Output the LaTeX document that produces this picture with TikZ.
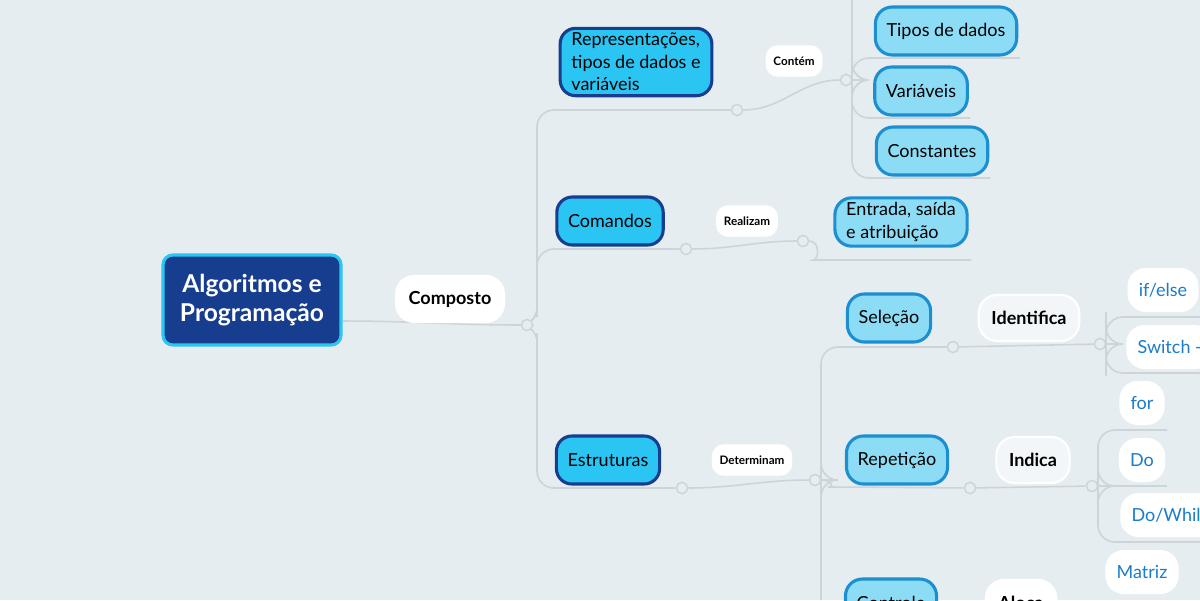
\documentclass[tikz,border=0pt]{standalone}
\usepackage{fontspec}
\setmainfont{Lato}
\usetikzlibrary{positioning}
\pgfdeclarelayer{background}
\pgfsetlayers{background,main}
\definecolor{bgc}{HTML}{E6EDF1}
\definecolor{linec}{HTML}{CDD4D8}
\definecolor{navy}{HTML}{173D8F}
\definecolor{cyanb}{HTML}{2BC5F4}
\definecolor{lightb}{HTML}{8DDCF5}
\definecolor{medb}{HTML}{1B8FD0}
\definecolor{textb}{HTML}{1B7CC8}
\tikzset{
  rootbox/.style={draw=cyanb,line width=2.2pt,fill=navy,rounded corners=7pt,text=white,font=\fontsize{17.5}{21}\selectfont\bfseries,align=center,minimum width=4.45cm,minimum height=2.25cm},
  mainbox/.style={draw=navy,line width=2.2pt,fill=cyanb,rounded corners=11pt,font=\fontsize{12.8}{16}\selectfont,align=left,minimum height=1.2cm,inner xsep=8pt},
  subbox/.style={draw=medb,line width=2.2pt,fill=lightb,rounded corners=12pt,font=\fontsize{12.8}{16}\selectfont,align=left,minimum height=1.2cm,inner xsep=8pt},
  verb/.style={draw=white,line width=1pt,fill=white,rounded corners=8pt,font=\fontsize{8.3}{10}\selectfont\bfseries,minimum height=0.75cm,inner xsep=5pt},
  bigverb/.style={draw=white,line width=1.5pt,fill=white,rounded corners=13pt,font=\fontsize{12.8}{15}\selectfont\bfseries,minimum height=1.15cm,inner xsep=9pt},
  grayverb/.style={bigverb,fill=bgc!50!white},
  leaf/.style={fill=white,rounded corners=13pt,text=textb,font=\fontsize{12.8}{15}\selectfont,minimum height=1.1cm,inner xsep=8pt},
  junc/.style={circle,draw=linec,line width=1pt,fill=bgc,minimum size=0.28cm,inner sep=0pt},
  link/.style={draw=linec,line width=1.1pt,rounded corners=12pt},
}
\begin{document}
\begin{tikzpicture}[x=0.025cm,y=-0.025cm]
\begin{pgfonlayer}{background}
\fill[bgc] (0,0) rectangle (1200,600);
\end{pgfonlayer}
\useasboundingbox (0,0) rectangle (1200,600);
% root and first level
\node[rootbox] (root) at (252,300) {Algoritmos e\\Programação};
\node[bigverb] (comp) at (450,299) {Composto};
\node[junc] (j0) at (527,325) {};
\node[mainbox] (rep) at (636,62) {Representações,\\tipos de dados e\\variáveis};
\node[mainbox] (cmd) at (610,221) {Comandos};
\node[mainbox] (est) at (608,460) {Estruturas};
\node[junc] (j1) at (737,110) {};
\node[junc] (j2) at (686,249) {};
\node[junc] (j3) at (682,488) {};
% verbs
\node[verb] (cont) at (794,61) {Contém};
\node[verb] (real) at (747,221) {Realizam};
\node[verb] (det) at (752,460) {Determinam};
\node[junc] (k1) at (846,80) {};
\node[junc] (k2) at (803,241) {};
\node[junc] (k3) at (815,480) {};
% second level
\node[subbox] (tip) at (946,31) {Tipos de dados};
\node[subbox] (var) at (921,91) {Variáveis};
\node[subbox] (cst) at (932,151) {Constantes};
\node[subbox] (ent) at (901,222) {Entrada, saída\\e atribuição};
\node[subbox] (sel) at (889,318) {Seleção};
\node[subbox] (rpt) at (897,460) {Repetição};
\node[subbox] (ctl) at (891,603) {Controle};
\node[junc] (m1) at (953,347) {};
\node[junc] (m2) at (970,488) {};
\node[grayverb] (idf) at (1029,318) {Identifica};
\node[grayverb] (ind) at (1033,460) {Indica};
\node[bigverb] (aloc) at (1021,603) {Aloca};
\node[junc] (n1) at (1100,344) {};
\node[junc] (n2) at (1092,486) {};
% leaves
\node[leaf] (ife) at (1163,290) {if/else};
\node[leaf,anchor=west] (sw) at (1126,347) {Switch -};
\node[leaf] (for) at (1142,403) {for};
\node[leaf] (dox) at (1142,460) {Do};
\node[leaf,anchor=west] (dow) at (1120,515) {Do/While};
\node[leaf] (mtz) at (1142,572) {Matriz};
% connectors
\begin{pgfonlayer}{background}
\draw[link] (root.east|-0,321) to[out=0,in=180] (j0);
\draw[link] (j0) -| ++(10,-25) |- (j1);
\draw[link] (j0) -| ++(10,-25) |- (j2);
\draw[link] (j0) -| ++(10,25) |- (j3);
\draw[link] (j1) to[out=0,in=180] (k1);
\draw[link] (j2) to[out=0,in=180] (k2);
\draw[link] (j3) to[out=0,in=180] (k3);
\draw[link] (k1) -| ++(6,-15) |- (1020,58);
\draw[link] (k1) -| ++(6,15) |- (970,118);
\draw[link] (k1) -| ++(6,15) |- (990,178);
\draw[link] (k1) -| ++(6,-15) -- (852,0);
\draw[link] (k2) to[out=0,in=180] (830,260) -- (971,260);
\draw[link] (k3) -| ++(6,-15) |- (m1);
\draw[link] (k3) to[out=0,in=180] (845,487) -- (m2);
\draw[link] (k3) -| ++(6,15) -- (821,600);
\draw[link] (m1) -- (n1);
\draw[link] (m2) -- (n2);
\draw[link] (n1) -| ++(6,-15) |- (1200,317);
\draw[link] (n1) -| ++(6,15) |- (1200,373);
\draw[link] (n2) -| ++(6,-15) |- (1167,430);
\draw[link] (n2) -- (1167,486);
\draw[link] (n2) -| ++(6,15) |- (1200,542);
\end{pgfonlayer}
\end{tikzpicture}
\end{document}
